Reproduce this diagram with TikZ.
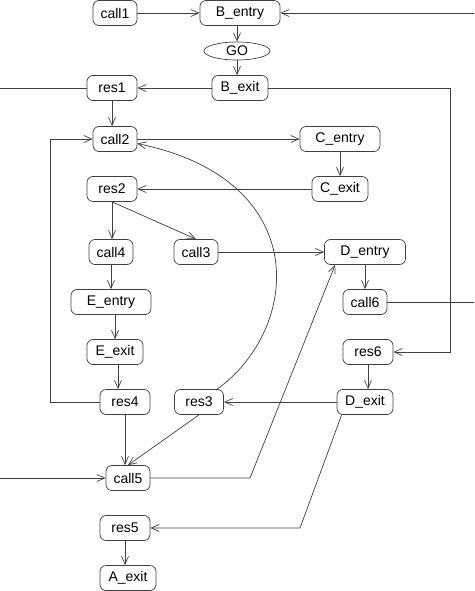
\documentclass[tikz,border=0pt]{standalone}
\usepackage{fontspec}
\setmainfont{Liberation Sans}
\usetikzlibrary{arrows.meta, shapes.geometric}

\begin{document}
\begin{tikzpicture}[x=1pt, y=-1pt,
        >={Straight Barb[length=8pt, width=7pt]},
        line/.style={draw=black!75, line width=0.7pt},
        conn/.style={line, ->},
        box/.style={line, rounded corners=6pt, minimum height=25pt, inner sep=2pt, font=\fontsize{14}{16}\selectfont}]
        \useasboundingbox (0,0) rectangle (474,591);

        \node[box, minimum width=44] (call1) at (115,13) {call1};
        \node[box, minimum width=80] (Bentry) at (240,13) {B\_entry};
        \node[line, ellipse, minimum width=66, minimum height=18, inner sep=0pt, font=\fontsize{14}{16}\selectfont] (GO) at (237,51) {GO};
        \node[box, minimum width=56] (Bexit) at (240,88) {B\_exit};
        \node[box, minimum width=50] (res1) at (112,88) {res1};
        \node[box, minimum width=44] (call2) at (115,139) {call2};
        \node[box, minimum width=80] (Centry) at (340,139) {C\_entry};
        \node[box, minimum width=56] (Cexit) at (340,189) {C\_exit};
        \node[box, minimum width=50] (res2) at (112,189) {res2};
        \node[box, minimum width=44] (call4) at (111,252) {call4};
        \node[box, minimum width=44] (call3) at (196,252) {call3};
        \node[box, minimum width=81] (Dentry) at (365,252) {D\_entry};
        \node[box, minimum width=80] (Eentry) at (111,302) {E\_entry};
        \node[box, minimum width=44] (call6) at (365,302) {call6};
        \node[box, minimum width=56] (Eexit) at (115,352) {E\_exit};
        \node[box, minimum width=50] (res6) at (368,352) {res6};
        \node[box, minimum width=50] (res4) at (125,402) {res4};
        \node[box, minimum width=49] (res3) at (199,402) {res3};
        \node[box, minimum width=56] (Dexit) at (365,402) {D\_exit};
        \node[box, minimum width=44] (call5) at (128,478) {call5};
        \node[box, minimum width=50] (res5) at (125,528) {res5};
        \node[box, minimum width=56] (Aexit) at (128,578) {A\_exit};

        % loose ends at the borders
        \coordinate (inB) at (474,13);
        \coordinate (outA) at (0,88);
        \coordinate (outD) at (474,302);
        \coordinate (inC) at (0,478);

        \draw[conn] (call1) -- (Bentry);
        \draw[conn] (inB) -- (Bentry);
        \draw[conn] (Bentry.south -| GO.north) -- (GO.north);
        \draw[conn] (GO.south) -- (GO.south |- Bexit.north);
        \draw[conn] (Bexit) -- (res1);
        \draw[line] (res1) -- (outA);
        \draw[conn] (Bexit) -- (450,88) |- (res6);
        \draw[conn] (res1.south) -- (res1.south |- call2.north);
        \draw[conn] (call2) -- (Centry);
        \draw[conn] (res3) .. controls (300,330) and (315,180) .. (call2);
        \draw[conn] (Centry) -- (Cexit);
        \draw[conn] (Cexit) -- (res2);
        \draw[conn] (res2.south) -- (res2.south |- call4.north);
        \draw[conn] (res2.south) -- (call3.north);
        \draw[conn] (call3) -- (Dentry);
        \draw[conn] (call4) -- (Eentry);
        \draw[conn] (Eentry.south -| Eexit.north) -- (Eexit.north);
        \draw[conn] ([xshift=3]Eexit.south) -- ([xshift=3]Eexit.south |- res4.north);
        \draw[conn] (Dentry) -- (call6);
        \draw[line] (call6) -- (outD);
        \draw[conn] (res6.south) -- (res6.south |- Dexit.north);
        \draw[conn] (Dexit) -- (res3);
        \draw[conn] (res4) -- (50,402) |- (call2);
        \draw[conn] (res4.south) -- (res4.south |- call5.north);
        \draw[conn] (res3.south) -- (call5.north);
        \draw[conn] (call5) -- (250,478) -- ([xshift=11]Dentry.south west);
        \draw[conn] (inC) -- (call5);
        \draw[conn] ([xshift=5]Dexit.south west) -- (300,528) -- (res5);
        \draw[conn] (res5.south) -- (res5.south |- Aexit.north);
\end{tikzpicture}
\end{document}
